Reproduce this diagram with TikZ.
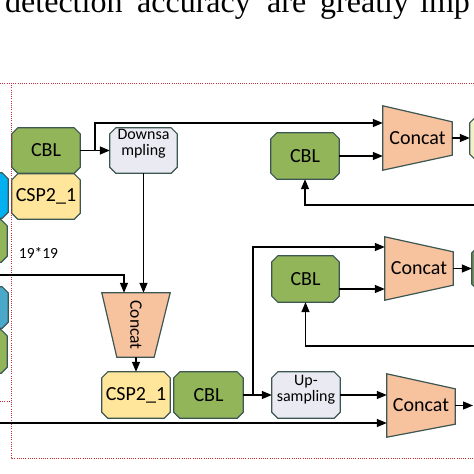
\documentclass[tikz,border=0pt]{standalone}
\usepackage{fontspec}
\setmainfont{Carlito}
\newfontfamily\timesf{Liberation Serif}
\usetikzlibrary{arrows.meta,backgrounds}
\definecolor{gfill}{HTML}{92B55A}
\definecolor{yfill}{HTML}{FFE69A}
\definecolor{cfill}{HTML}{F7C29E}
\definecolor{lfill}{HTML}{EAEAF3}
\definecolor{bord}{HTML}{3C5652}
\definecolor{cyanb}{HTML}{00B0F0}
\definecolor{steelb}{HTML}{4AA8C8}
\definecolor{paley}{HTML}{F2F1C6}
\definecolor{darkg}{HTML}{728F5F}
\definecolor{redd}{HTML}{C8303A}
\def\ch{6pt}
\newcommand\octo[2]{%
  \draw[boxline, fill=#2] ([xshift=\ch]#1.north west) -- ([xshift=-\ch]#1.north east)
    -- ([yshift=-\ch]#1.north east) -- ([yshift=\ch]#1.south east)
    -- ([xshift=-\ch]#1.south east) -- ([xshift=\ch]#1.south west)
    -- ([yshift=\ch]#1.south west) -- ([yshift=-\ch]#1.north west) -- cycle;}
\newcommand\trapL[3]{%
  \draw[boxline, fill=cfill] (#1.north west) -- ([yshift=-#2]#1.north east)
    -- ([yshift=#3]#1.south east) -- (#1.south west) -- cycle;}
\newcommand\trapT[3]{%
  \draw[boxline, fill=cfill] (#1.north west) -- (#1.north east)
    -- ([xshift=-#3]#1.south east) -- ([xshift=#2]#1.south west) -- cycle;}
\begin{document}
\begin{tikzpicture}[x=1pt,y=-1pt,
  boxline/.style={draw=bord, line width=1.2pt},
  bx/.style={minimum width=68pt, minimum height=45pt, inner sep=0pt, font=\fontsize{20}{22}\selectfont},
  smalltxt/.style={font=\fontsize{16}{15.5}\selectfont, align=center},
  arr/.style={line width=1.4pt, -{Triangle[length=10pt,width=8pt]}},
  reddot/.style={draw=redd, line width=0.9pt, dash pattern=on 1pt off 1.2pt},
  topword/.style={anchor=base west, inner sep=0pt, font=\timesf\fontsize{32}{36}\selectfont}]
\useasboundingbox (0,0) rectangle (474,474);
\clip (0,0) rectangle (474,474);
% top text
\node[topword] (w1) at (5,12) {detection};
\node[topword] (w2) at (137,12) {accuracy};
\node[topword] (w3) at (267,12) {are};
\node[topword] (w4) at (320,12) {greatly};
\node[topword] (w5) at (420,12) {imp};
% red frames
\draw[reddot] (0,83) -- (474,83);
\draw[reddot] (11,83) -- (11,458) -- (474,458);
\draw[reddot] (0,401) -- (11,401);
% boxes
\node[bx] (cblA) at (46,150.5) {CBL};
\node[bx] (cspA) at (46,196.5) {CSP2\_1};
\node[bx, minimum width=67pt, label={[name=downtxt, smalltxt, yshift=7pt]center:Downsa\\mpling}] (down) at (143.5,150.5) {};
\node[font=\fontsize{15.5}{15}\selectfont, inner sep=0pt] (res) at (38.5,253) {19*19};
\node[bx, minimum height=46pt] (cblB) at (305,156) {CBL};
\node[bx, minimum width=67pt, minimum height=46pt] (cblC) at (305.5,279) {CBL};
\node[bx, minimum height=46pt] (cspB) at (136,395) {CSP2\_1};
\node[bx, minimum width=69pt, minimum height=46pt] (cblD) at (208.5,395) {CBL};
\node[bx, minimum height=46pt, label={[name=uptxt, smalltxt, yshift=5.5pt]center:Up-\\sampling}] (up) at (306,395) {};
\node[bx, minimum width=69pt, minimum height=64pt] (c1) at (417.5,138) {Concat};
\node[bx, minimum height=63pt] (c2) at (419,268.5) {Concat};
\node[bx, minimum height=63pt] (c3) at (421,405.5) {Concat};
\node[bx, minimum height=64pt, font=\fontsize{17.5}{20}\selectfont] (vc) at (136,325) {\rotatebox{-90}{Concat}};
% cut-off blocks
\node[bx] (lb1) at (-26,195.5) {};
\node[bx, minimum height=42pt] (lb2) at (-27,241) {};
\node[bx, minimum height=41pt] (lb3) at (-26,307.5) {};
\node[bx, minimum height=43pt] (lb4) at (-27,351.5) {};
\node[bx, minimum height=43pt] (r1) at (504,138.5) {};
\node[bx, minimum height=43pt] (r2) at (506,268.5) {};
\begin{scope}[on background layer]
\octo{cblA}{gfill}
\octo{cspA}{yfill}
\octo{down}{lfill}
\octo{cblB}{gfill}
\octo{cblC}{gfill}
\octo{cspB}{yfill}
\octo{cblD}{gfill}
\octo{up}{lfill}
\octo{lb1}{cyanb}
\octo{lb2}{gfill}
\octo{lb3}{steelb}
\octo{lb4}{gfill}
\octo{r1}{paley}
\octo{r2}{darkg}
\trapL{c1}{16pt}{15pt}
\trapL{c2}{15pt}{15pt}
\trapL{c3}{15pt}{13pt}
\trapT{vc}{15pt}{16pt}
\end{scope}
% free ends
\coordinate (j1) at (95,150.5);
\coordinate (j2) at (253,395);
\coordinate (L1) at (0,275);
\coordinate (L2) at (0,423);
\coordinate (F1) at (474,205);
\coordinate (F2) at (474,346);
\coordinate (R3) at (473,405.5);
% connectors
\draw[arr] (cblA.east) -- (down.west);
\draw[arr] (j1) |- ([yshift=15pt]c1.west);
\draw[arr] (cblB.east) -- (c1.west |- cblB.east);
\draw[arr] (c1.east) -- (r1.west |- c1.east);
\draw[arr] (F1) -| (cblB.south);
\draw[arr] (down.south) -- (down.south |- vc.north);
\draw[arr] (L1) -| ([xshift=-12pt]vc.north);
\draw[arr] (vc.south) -- (cspB.north);
\draw[arr] (cblD.east) -- (up.west);
\draw[arr] (j2) |- ([yshift=21.5pt]c2.west);
\draw[arr] ([yshift=-10pt]cblC.east) -- ([yshift=-20.5pt]c2.west);
\draw[arr] (c2.east) -- (r2.west |- c2.east);
\draw[arr] (F2) -| (cblC.south);
\draw[arr] (up.east) -- ([yshift=10.5pt]c3.west);
\draw[arr] (L2) -- ([yshift=-17.5pt]c3.west);
\draw[arr] (c3.east) -- (R3);
\end{tikzpicture}
\end{document}
